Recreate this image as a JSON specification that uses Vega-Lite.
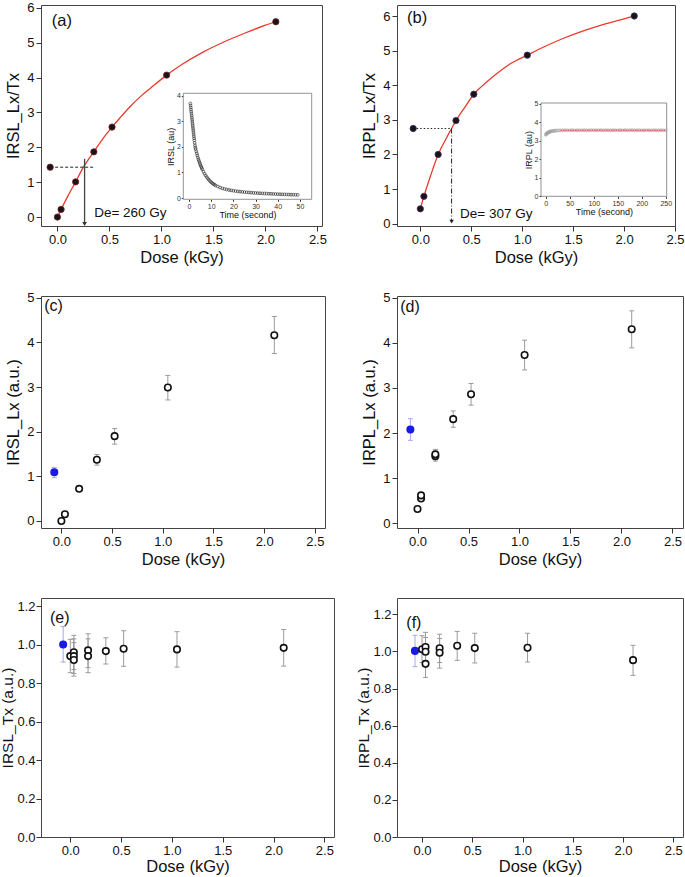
{
  "$schema": "https://vega.github.io/schema/vega-lite/v6.json",
  "autosize": {"type": "none"},
  "padding": {"left": 41, "top": 5, "right": 644, "bottom": 872},
  "background": "white",
  "columns": 2,
  "spacing": {"row": 70, "column": 63},
  "bounds": "flush",
  "datasets": {
    "a_fit": [
      {"dose": 0, "v": 0}, {"dose": 0.035, "v": 0.22}, {"dose": 0.1, "v": 0.6}, {"dose": 0.175, "v": 1.01},
      {"dose": 0.25, "v": 1.43}, {"dose": 0.35, "v": 1.87}, {"dose": 0.45, "v": 2.3}, {"dose": 0.525, "v": 2.58},
      {"dose": 0.6, "v": 2.84}, {"dose": 0.7, "v": 3.17}, {"dose": 0.8, "v": 3.46}, {"dose": 0.9, "v": 3.71},
      {"dose": 1.05, "v": 4.07}, {"dose": 1.2, "v": 4.38}, {"dose": 1.4, "v": 4.73}, {"dose": 1.6, "v": 5.02},
      {"dose": 1.8, "v": 5.27}, {"dose": 2.0, "v": 5.5}, {"dose": 2.1, "v": 5.6}
    ],
    "a_pts": [
      {"dose": -0.07, "v": 1.43}, {"dose": 0, "v": 0}, {"dose": 0.035, "v": 0.22}, {"dose": 0.175, "v": 1.01},
      {"dose": 0.35, "v": 1.87}, {"dose": 0.525, "v": 2.58}, {"dose": 1.05, "v": 4.07}, {"dose": 2.1, "v": 5.6}
    ],
    "a_guide": [
      {"kind": "h", "dose": -0.07, "dose2": 0.348, "v": 1.43, "v2": 1.43},
      {"kind": "v", "dose": 0.261, "dose2": 0.261, "v": 1.67, "v2": -0.2}
    ],
    "a_dec": [
      {"t": 0.6, "s": 3.7}, {"t": 0.7, "s": 3.62}, {"t": 0.8, "s": 3.54}, {"t": 0.9, "s": 3.46}, {"t": 1.0, "s": 3.38},
      {"t": 1.1, "s": 3.3}, {"t": 1.2, "s": 3.22}, {"t": 1.3, "s": 3.14}, {"t": 1.4, "s": 3.06}, {"t": 1.5, "s": 2.98},
      {"t": 1.6, "s": 2.9}, {"t": 1.7, "s": 2.82}, {"t": 1.8, "s": 2.74}, {"t": 1.9, "s": 2.66}, {"t": 2.0, "s": 2.58},
      {"t": 2.1, "s": 2.5}, {"t": 2.2, "s": 2.42}, {"t": 2.3, "s": 2.34}, {"t": 2.4, "s": 2.26}, {"t": 2.55, "s": 2.16},
      {"t": 2.7, "s": 2.06}, {"t": 2.85, "s": 1.98}, {"t": 3.0, "s": 1.92}, {"t": 3.25, "s": 1.83}, {"t": 3.5, "s": 1.75},
      {"t": 3.75, "s": 1.67}, {"t": 4.0, "s": 1.59}, {"t": 4.25, "s": 1.52}, {"t": 4.5, "s": 1.45}, {"t": 4.75, "s": 1.39},
      {"t": 5.0, "s": 1.33}, {"t": 5.25, "s": 1.27}, {"t": 5.5, "s": 1.22}, {"t": 5.75, "s": 1.17}, {"t": 6.0, "s": 1.12},
      {"t": 6.5, "s": 1.03}, {"t": 7.0, "s": 0.95}, {"t": 7.5, "s": 0.88}, {"t": 8.0, "s": 0.82}, {"t": 8.5, "s": 0.76},
      {"t": 9.0, "s": 0.71}, {"t": 9.5, "s": 0.66}, {"t": 10, "s": 0.62}, {"t": 10.5, "s": 0.58}, {"t": 11, "s": 0.55},
      {"t": 11.5, "s": 0.52}, {"t": 12, "s": 0.49}, {"t": 13, "s": 0.45}, {"t": 14, "s": 0.41}, {"t": 15, "s": 0.38},
      {"t": 16, "s": 0.355}, {"t": 17, "s": 0.335}, {"t": 18, "s": 0.315}, {"t": 19, "s": 0.3}, {"t": 20, "s": 0.285},
      {"t": 21, "s": 0.272}, {"t": 22, "s": 0.26}, {"t": 23, "s": 0.25}, {"t": 24, "s": 0.24}, {"t": 25, "s": 0.232},
      {"t": 26, "s": 0.224}, {"t": 27, "s": 0.217}, {"t": 28, "s": 0.21}, {"t": 29, "s": 0.204}, {"t": 30, "s": 0.198},
      {"t": 31, "s": 0.192}, {"t": 32, "s": 0.187}, {"t": 33, "s": 0.182}, {"t": 34, "s": 0.177}, {"t": 35, "s": 0.173},
      {"t": 36, "s": 0.168}, {"t": 37, "s": 0.164}, {"t": 38, "s": 0.16}, {"t": 39, "s": 0.156}, {"t": 40, "s": 0.152},
      {"t": 41, "s": 0.149}, {"t": 42, "s": 0.145}, {"t": 43, "s": 0.142}, {"t": 44, "s": 0.139}, {"t": 45, "s": 0.136},
      {"t": 46, "s": 0.133}, {"t": 47, "s": 0.13}, {"t": 48, "s": 0.127}, {"t": 49, "s": 0.124}
    ],
    "b_fit": [
      {"dose": 0, "v": 0.43}, {"dose": 0.035, "v": 0.79}, {"dose": 0.1, "v": 1.38}, {"dose": 0.175, "v": 2.0},
      {"dose": 0.25, "v": 2.44}, {"dose": 0.307, "v": 2.75}, {"dose": 0.35, "v": 2.98}, {"dose": 0.45, "v": 3.42},
      {"dose": 0.525, "v": 3.74}, {"dose": 0.6, "v": 3.96}, {"dose": 0.7, "v": 4.22}, {"dose": 0.8, "v": 4.45},
      {"dose": 0.9, "v": 4.65}, {"dose": 1.05, "v": 4.87}, {"dose": 1.2, "v": 5.09}, {"dose": 1.4, "v": 5.35},
      {"dose": 1.6, "v": 5.57}, {"dose": 1.8, "v": 5.76}, {"dose": 2.0, "v": 5.92}, {"dose": 2.1, "v": 6.0}
    ],
    "b_pts": [
      {"dose": -0.07, "v": 2.75}, {"dose": 0, "v": 0.43}, {"dose": 0.035, "v": 0.79}, {"dose": 0.175, "v": 2.0},
      {"dose": 0.35, "v": 2.98}, {"dose": 0.525, "v": 3.74}, {"dose": 1.05, "v": 4.87}, {"dose": 2.1, "v": 6.0}
    ],
    "b_guide": [
      {"kind": "h", "dose": -0.07, "dose2": 0.307, "v": 2.75, "v2": 2.75},
      {"kind": "v", "dose": 0.307, "dose2": 0.307, "v": 2.75, "v2": 0.06}
    ],
    "b_irpl": [
      {"t": 0, "s": 3.33}, {"t": 1, "s": 3.36}, {"t": 2, "s": 3.39}, {"t": 3, "s": 3.41}, {"t": 4, "s": 3.43},
      {"t": 5, "s": 3.45}, {"t": 6, "s": 3.47}, {"t": 7, "s": 3.48}, {"t": 8, "s": 3.49}, {"t": 9, "s": 3.5},
      {"t": 10, "s": 3.51}, {"t": 12, "s": 3.52}, {"t": 14, "s": 3.53}, {"t": 16, "s": 3.54}, {"t": 18, "s": 3.55},
      {"t": 20, "s": 3.55}, {"t": 23, "s": 3.56}, {"t": 26, "s": 3.56}, {"t": 30, "s": 3.57}, {"t": 35, "s": 3.57},
      {"t": 40, "s": 3.58}, {"t": 45, "s": 3.57}, {"t": 50, "s": 3.57}, {"t": 55, "s": 3.58}, {"t": 60, "s": 3.57},
      {"t": 65, "s": 3.57}, {"t": 70, "s": 3.58}, {"t": 75, "s": 3.57}, {"t": 80, "s": 3.58}, {"t": 85, "s": 3.57},
      {"t": 90, "s": 3.57}, {"t": 95, "s": 3.58}, {"t": 100, "s": 3.58}, {"t": 105, "s": 3.57}, {"t": 110, "s": 3.58},
      {"t": 115, "s": 3.58}, {"t": 120, "s": 3.57}, {"t": 125, "s": 3.58}, {"t": 130, "s": 3.57}, {"t": 135, "s": 3.57},
      {"t": 140, "s": 3.58}, {"t": 145, "s": 3.57}, {"t": 150, "s": 3.57}, {"t": 155, "s": 3.58}, {"t": 160, "s": 3.57},
      {"t": 165, "s": 3.58}, {"t": 170, "s": 3.57}, {"t": 175, "s": 3.58}, {"t": 180, "s": 3.58}, {"t": 185, "s": 3.57},
      {"t": 190, "s": 3.57}, {"t": 195, "s": 3.58}, {"t": 200, "s": 3.57}, {"t": 205, "s": 3.57}, {"t": 210, "s": 3.58},
      {"t": 215, "s": 3.57}, {"t": 220, "s": 3.57}, {"t": 225, "s": 3.58}, {"t": 230, "s": 3.57}, {"t": 235, "s": 3.57},
      {"t": 240, "s": 3.58}, {"t": 245, "s": 3.57}, {"t": 250, "s": 3.57}
    ],
    "b_irpl_fit": [{"t": 30, "s": 3.575}, {"t": 130, "s": 3.58}, {"t": 250, "s": 3.575}],
    "c": [
      {"kind": "nat", "dose": -0.07, "v": 1.09, "lo": 0.97, "hi": 1.2},
      {"kind": "reg", "dose": 0, "v": 0.0, "lo": -0.02, "hi": 0.02},
      {"kind": "reg", "dose": 0.035, "v": 0.15, "lo": 0.12, "hi": 0.18},
      {"kind": "reg", "dose": 0.175, "v": 0.72, "lo": 0.68, "hi": 0.77},
      {"kind": "reg", "dose": 0.35, "v": 1.37, "lo": 1.25, "hi": 1.49},
      {"kind": "reg", "dose": 0.525, "v": 1.9, "lo": 1.72, "hi": 2.07},
      {"kind": "reg", "dose": 1.05, "v": 2.99, "lo": 2.71, "hi": 3.26},
      {"kind": "reg", "dose": 2.1, "v": 4.16, "lo": 3.75, "hi": 4.58}
    ],
    "d": [
      {"kind": "nat", "dose": -0.07, "v": 2.08, "lo": 1.84, "hi": 2.32},
      {"kind": "reg", "dose": 0, "v": 0.32, "lo": 0.3, "hi": 0.34},
      {"kind": "reg", "dose": 0.035, "v": 0.55, "lo": 0.51, "hi": 0.59},
      {"kind": "reg", "dose": 0.035, "v": 0.62, "lo": 0.58, "hi": 0.66},
      {"kind": "reg", "dose": 0.175, "v": 1.49, "lo": 1.38, "hi": 1.6},
      {"kind": "reg", "dose": 0.175, "v": 1.53, "lo": 1.42, "hi": 1.64},
      {"kind": "reg", "dose": 0.35, "v": 2.31, "lo": 2.13, "hi": 2.49},
      {"kind": "reg", "dose": 0.525, "v": 2.86, "lo": 2.62, "hi": 3.1},
      {"kind": "reg", "dose": 1.05, "v": 3.73, "lo": 3.4, "hi": 4.06},
      {"kind": "reg", "dose": 2.1, "v": 4.3, "lo": 3.89, "hi": 4.71}
    ],
    "e": [
      {"kind": "nat", "dose": -0.07, "v": 1.0, "lo": 0.909, "hi": 1.094},
      {"kind": "reg", "dose": 0, "v": 0.94, "lo": 0.854, "hi": 1.027},
      {"kind": "reg", "dose": 0.035, "v": 0.96, "lo": 0.87, "hi": 1.048},
      {"kind": "reg", "dose": 0.035, "v": 0.94, "lo": 0.85, "hi": 1.03},
      {"kind": "reg", "dose": 0.035, "v": 0.92, "lo": 0.836, "hi": 1.01},
      {"kind": "reg", "dose": 0.175, "v": 0.97, "lo": 0.88, "hi": 1.056},
      {"kind": "reg", "dose": 0.175, "v": 0.94, "lo": 0.854, "hi": 1.03},
      {"kind": "reg", "dose": 0.35, "v": 0.966, "lo": 0.899, "hi": 1.035},
      {"kind": "reg", "dose": 0.525, "v": 0.978, "lo": 0.887, "hi": 1.072},
      {"kind": "reg", "dose": 1.05, "v": 0.975, "lo": 0.883, "hi": 1.067},
      {"kind": "reg", "dose": 2.1, "v": 0.983, "lo": 0.888, "hi": 1.078}
    ],
    "f": [
      {"kind": "nat", "dose": -0.07, "v": 1.003, "lo": 0.918, "hi": 1.087},
      {"kind": "reg", "dose": 0, "v": 1.012, "lo": 0.94, "hi": 1.085},
      {"kind": "reg", "dose": 0.035, "v": 1.024, "lo": 0.95, "hi": 1.103},
      {"kind": "reg", "dose": 0.035, "v": 0.998, "lo": 0.92, "hi": 1.075},
      {"kind": "reg", "dose": 0.035, "v": 0.933, "lo": 0.86, "hi": 1.005},
      {"kind": "reg", "dose": 0.175, "v": 1.017, "lo": 0.94, "hi": 1.093},
      {"kind": "reg", "dose": 0.175, "v": 0.993, "lo": 0.91, "hi": 1.07},
      {"kind": "reg", "dose": 0.35, "v": 1.031, "lo": 0.952, "hi": 1.108},
      {"kind": "reg", "dose": 0.525, "v": 1.018, "lo": 0.938, "hi": 1.098},
      {"kind": "reg", "dose": 1.05, "v": 1.02, "lo": 0.943, "hi": 1.098},
      {"kind": "reg", "dose": 2.1, "v": 0.953, "lo": 0.871, "hi": 1.033}
    ]
  },
  "concat": [
    {
      "width": 281, "height": 221,
      "resolve": {"scale": {"x": "independent", "y": "independent"}},
      "layer": [
        {"layer": [
          {"data": {"name": "a_fit"}, "mark": {"type": "line", "color": "#e63b2e", "strokeWidth": 1.3, "interpolate": "monotone"},
           "encoding": {
             "x": {"field": "dose", "type": "quantitative", "scale": {"domain": [-0.158, 2.544], "nice": false, "zero": false},
                   "axis": {"title": "Dose (kGy)", "values": [0, 0.5, 1, 1.5, 2, 2.5], "tickCount": 20, "format": ".1f", "labelOverlap": false, "titlePadding": 3}},
             "y": {"field": "v", "type": "quantitative", "scale": {"domain": [-0.256, 6.08], "nice": false, "zero": false},
                   "axis": {"title": "IRSL_Lx/Tx", "values": [0, 1, 2, 3, 4, 5, 6], "tickCount": 20, "format": "d", "labelOverlap": false}}}},
          {"data": {"name": "a_guide"}, "transform": [{"filter": "datum.kind == 'h'"}],
           "mark": {"type": "rule", "color": "#222", "strokeWidth": 1, "strokeDash": [3, 2]},
           "encoding": {"x": {"field": "dose", "type": "quantitative"}, "x2": {"field": "dose2"}, "y": {"field": "v", "type": "quantitative"}, "y2": {"field": "v2"}}},
          {"data": {"name": "a_guide"}, "transform": [{"filter": "datum.kind == 'v'"}],
           "mark": {"type": "rule", "color": "#444", "strokeWidth": 1.3},
           "encoding": {"x": {"field": "dose", "type": "quantitative"}, "x2": {"field": "dose2"}, "y": {"field": "v", "type": "quantitative"}, "y2": {"field": "v2"}}},
          {"data": {"name": "a_guide"}, "transform": [{"filter": "datum.kind == 'v'"}],
           "mark": {"type": "point", "shape": "triangle-down", "size": 22, "filled": true, "color": "#333", "opacity": 1},
           "encoding": {"x": {"field": "dose", "type": "quantitative"}, "y": {"field": "v2", "type": "quantitative"}}},
          {"data": {"name": "a_pts"}, "mark": {"type": "circle", "size": 40, "fill": "#151515", "stroke": "#7a1f2b", "strokeWidth": 0.8, "opacity": 1},
           "encoding": {"x": {"field": "dose", "type": "quantitative"}, "y": {"field": "v", "type": "quantitative"}}},
          {"data": {"values": [{"dose": -0.055, "v": 5.62, "label": "(a)"}]},
           "mark": {"type": "text", "align": "left", "baseline": "middle", "fontSize": 16.5, "color": "#111"},
           "encoding": {"x": {"field": "dose", "type": "quantitative"}, "y": {"field": "v", "type": "quantitative"}, "text": {"field": "label"}}},
          {"data": {"values": [{"dose": 0.353, "v": 0.12, "label": "De= 260 Gy"}]},
           "mark": {"type": "text", "align": "left", "baseline": "middle", "fontSize": 13.5, "color": "#111"},
           "encoding": {"x": {"field": "dose", "type": "quantitative"}, "y": {"field": "v", "type": "quantitative"}, "text": {"field": "label"}}}
        ]},
        {"layer": [
          {"data": {"values": [{}]}, "mark": {"type": "rect", "fill": "white", "stroke": "#777", "strokeWidth": 0.8},
           "encoding": {
             "x": {"datum": -2.57, "type": "quantitative", "scale": {"domain": [-2.57, 55.3], "range": [142.3, 270.7], "nice": false, "zero": false},
                   "axis": {"orient": "bottom", "offset": -26.7, "title": "Time (second)", "values": [0, 10, 20, 30, 40, 50], "tickCount": 20, "format": "d", "labelOverlap": false, "tickSize": 2, "labelFontSize": 7, "labelColor": "#333", "titleFontSize": 9, "labelPadding": 1, "titlePadding": 1}},
             "x2": {"datum": 55.3},
             "y": {"datum": -0.05, "type": "quantitative", "scale": {"domain": [-0.05, 4.1], "range": [194.3, 88.3], "nice": false, "zero": false},
                   "axis": {"orient": "left", "offset": -142.3, "title": "IRSL (au)", "values": [0, 1, 2, 3, 4], "tickCount": 20, "format": "d", "labelOverlap": false, "tickSize": 2, "labelFontSize": 7, "labelColor": "#333", "titleFontSize": 9, "labelPadding": 1, "titlePadding": 1}},
             "y2": {"datum": 4.1}}},
          {"data": {"name": "a_dec"}, "mark": {"type": "point", "shape": "circle", "size": 8, "filled": false, "stroke": "#222", "strokeWidth": 0.6, "opacity": 1},
           "encoding": {"x": {"field": "t", "type": "quantitative"}, "y": {"field": "s", "type": "quantitative"}}}
        ]}
      ]
    },
    {
      "width": 278, "height": 221,
      "resolve": {"scale": {"x": "independent", "y": "independent"}},
      "layer": [
        {"layer": [
          {"data": {"name": "b_fit"}, "mark": {"type": "line", "color": "#e63b2e", "strokeWidth": 1.3, "interpolate": "monotone"},
           "encoding": {
             "x": {"field": "dose", "type": "quantitative", "scale": {"domain": [-0.229, 2.5], "nice": false, "zero": false},
                   "axis": {"title": "Dose (kGy)", "values": [0, 0.5, 1, 1.5, 2, 2.5], "tickCount": 20, "format": ".1f", "labelOverlap": false, "titlePadding": 3}},
             "y": {"field": "v", "type": "quantitative", "scale": {"domain": [-0.066, 6.318], "nice": false, "zero": false},
                   "axis": {"title": "IRPL_Lx/Tx", "values": [0, 1, 2, 3, 4, 5, 6], "tickCount": 20, "format": "d", "labelOverlap": false}}}},
          {"data": {"name": "b_guide"}, "transform": [{"filter": "datum.kind == 'h'"}],
           "mark": {"type": "rule", "color": "#222", "strokeWidth": 1, "strokeDash": [1.5, 2]},
           "encoding": {"x": {"field": "dose", "type": "quantitative"}, "x2": {"field": "dose2"}, "y": {"field": "v", "type": "quantitative"}, "y2": {"field": "v2"}}},
          {"data": {"name": "b_guide"}, "transform": [{"filter": "datum.kind == 'v'"}],
           "mark": {"type": "rule", "color": "#222", "strokeWidth": 1, "strokeDash": [5, 2, 1, 2]},
           "encoding": {"x": {"field": "dose", "type": "quantitative"}, "x2": {"field": "dose2"}, "y": {"field": "v", "type": "quantitative"}, "y2": {"field": "v2"}}},
          {"data": {"name": "b_guide"}, "transform": [{"filter": "datum.kind == 'v'"}],
           "mark": {"type": "point", "shape": "triangle-down", "size": 20, "filled": true, "color": "#222", "opacity": 1},
           "encoding": {"x": {"field": "dose", "type": "quantitative"}, "y": {"field": "v2", "type": "quantitative"}}},
          {"data": {"name": "b_pts"}, "mark": {"type": "circle", "size": 40, "fill": "#151515", "stroke": "#4a2a6a", "strokeWidth": 0.8, "opacity": 1},
           "encoding": {"x": {"field": "dose", "type": "quantitative"}, "y": {"field": "v", "type": "quantitative"}}},
          {"data": {"values": [{"dose": -0.13, "v": 5.95, "label": "(b)"}]},
           "mark": {"type": "text", "align": "left", "baseline": "middle", "fontSize": 16.5, "color": "#111"},
           "encoding": {"x": {"field": "dose", "type": "quantitative"}, "y": {"field": "v", "type": "quantitative"}, "text": {"field": "label"}}},
          {"data": {"values": [{"dose": 0.39, "v": 0.29, "label": "De= 307 Gy"}]},
           "mark": {"type": "text", "align": "left", "baseline": "middle", "fontSize": 13.5, "color": "#111"},
           "encoding": {"x": {"field": "dose", "type": "quantitative"}, "y": {"field": "v", "type": "quantitative"}, "text": {"field": "label"}}}
        ]},
        {"layer": [
          {"data": {"values": [{}]}, "mark": {"type": "rect", "fill": "white", "stroke": "#777", "strokeWidth": 0.8},
           "encoding": {
             "x": {"datum": -9.8, "type": "quantitative", "scale": {"domain": [-9.8, 252], "range": [144, 269.7], "nice": false, "zero": false},
                   "axis": {"orient": "bottom", "offset": -29.7, "title": "Time (second)", "values": [0, 50, 100, 150, 200, 250], "tickCount": 20, "format": "d", "labelOverlap": false, "tickSize": 2, "labelFontSize": 7, "labelColor": "#333", "titleFontSize": 9, "labelPadding": 1, "titlePadding": 1}},
             "x2": {"datum": 252},
             "y": {"datum": 0, "type": "quantitative", "scale": {"domain": [0, 5.05], "range": [191.3, 98], "nice": false, "zero": false},
                   "axis": {"orient": "left", "offset": -144, "title": "IRPL (au)", "values": [0, 1, 2, 3, 4, 5], "tickCount": 20, "format": "d", "labelOverlap": false, "tickSize": 2, "labelFontSize": 7, "labelColor": "#333", "titleFontSize": 9, "labelPadding": 1, "titlePadding": 1}},
             "y2": {"datum": 5.05}}},
          {"data": {"name": "b_irpl"}, "mark": {"type": "point", "shape": "circle", "size": 8, "filled": false, "stroke": "#a0a0a0", "strokeWidth": 0.7, "opacity": 1},
           "encoding": {"x": {"field": "t", "type": "quantitative"}, "y": {"field": "s", "type": "quantitative"}}},
          {"data": {"name": "b_irpl_fit"}, "mark": {"type": "line", "color": "#d9534f", "strokeWidth": 1, "opacity": 0.8},
           "encoding": {"x": {"field": "t", "type": "quantitative"}, "y": {"field": "s", "type": "quantitative"}}}
        ]}
      ]
    },
    {
      "width": 284, "height": 232,
      "data": {"name": "c"},
      "layer": [
        {"mark": {"type": "rule", "strokeWidth": 1},
         "encoding": {
           "x": {"field": "dose", "type": "quantitative", "scale": {"domain": [-0.201, 2.6], "nice": false, "zero": false},
                 "axis": {"title": "Dose (kGy)", "values": [0, 0.5, 1, 1.5, 2, 2.5], "tickCount": 20, "format": ".1f", "labelOverlap": false, "titlePadding": 3}},
           "y": {"field": "lo", "type": "quantitative", "scale": {"domain": [-0.157, 5.038], "nice": false, "zero": false},
                 "axis": {"title": "IRSL_Lx (a.u.)", "values": [0, 1, 2, 3, 4, 5], "tickCount": 20, "format": "d", "labelOverlap": false}},
           "y2": {"field": "hi"},
           "color": {"field": "kind", "type": "nominal", "scale": {"domain": ["nat", "reg"], "range": ["#a7a7f0", "#9a9a9a"]}, "legend": null}}},
        {"mark": {"type": "tick", "orient": "horizontal", "size": 5, "thickness": 1, "opacity": 1},
         "encoding": {"x": {"field": "dose", "type": "quantitative"}, "y": {"field": "lo", "type": "quantitative"}, "color": {"field": "kind", "type": "nominal", "legend": null}}},
        {"mark": {"type": "tick", "orient": "horizontal", "size": 5, "thickness": 1, "opacity": 1},
         "encoding": {"x": {"field": "dose", "type": "quantitative"}, "y": {"field": "hi", "type": "quantitative"}, "color": {"field": "kind", "type": "nominal", "legend": null}}},
        {"mark": {"type": "circle", "size": 42, "strokeWidth": 1.6, "opacity": 1},
         "encoding": {"x": {"field": "dose", "type": "quantitative"}, "y": {"field": "v", "type": "quantitative"},
           "fill": {"field": "kind", "type": "nominal", "scale": {"domain": ["nat", "reg"], "range": ["#1a1ae6", "#ffffff"]}, "legend": null},
           "stroke": {"field": "kind", "type": "nominal", "scale": {"domain": ["nat", "reg"], "range": ["#1a1ae6", "#111111"]}, "legend": null}}},
        {"data": {"values": [{"dose": -0.169, "v": 4.81, "label": "(c)"}]},
         "mark": {"type": "text", "align": "left", "baseline": "middle", "fontSize": 16, "color": "#111"},
         "encoding": {"x": {"field": "dose", "type": "quantitative"}, "y": {"field": "v", "type": "quantitative"}, "text": {"field": "label"}}}
      ]
    },
    {
      "width": 286, "height": 232,
      "data": {"name": "d"},
      "layer": [
        {"mark": {"type": "rule", "strokeWidth": 1},
         "encoding": {
           "x": {"field": "dose", "type": "quantitative", "scale": {"domain": [-0.201, 2.603], "nice": false, "zero": false},
                 "axis": {"title": "Dose (kGy)", "values": [0, 0.5, 1, 1.5, 2, 2.5], "tickCount": 20, "format": ".1f", "labelOverlap": false, "titlePadding": 3}},
           "y": {"field": "lo", "type": "quantitative", "scale": {"domain": [-0.102, 5.038], "nice": false, "zero": false},
                 "axis": {"title": "IRPL_Lx (a.u.)", "values": [0, 1, 2, 3, 4, 5], "tickCount": 20, "format": "d", "labelOverlap": false}},
           "y2": {"field": "hi"},
           "color": {"field": "kind", "type": "nominal", "scale": {"domain": ["nat", "reg"], "range": ["#a7a7f0", "#9a9a9a"]}, "legend": null}}},
        {"mark": {"type": "tick", "orient": "horizontal", "size": 5, "thickness": 1, "opacity": 1},
         "encoding": {"x": {"field": "dose", "type": "quantitative"}, "y": {"field": "lo", "type": "quantitative"}, "color": {"field": "kind", "type": "nominal", "legend": null}}},
        {"mark": {"type": "tick", "orient": "horizontal", "size": 5, "thickness": 1, "opacity": 1},
         "encoding": {"x": {"field": "dose", "type": "quantitative"}, "y": {"field": "hi", "type": "quantitative"}, "color": {"field": "kind", "type": "nominal", "legend": null}}},
        {"mark": {"type": "circle", "size": 42, "strokeWidth": 1.6, "opacity": 1},
         "encoding": {"x": {"field": "dose", "type": "quantitative"}, "y": {"field": "v", "type": "quantitative"},
           "fill": {"field": "kind", "type": "nominal", "scale": {"domain": ["nat", "reg"], "range": ["#1a1ae6", "#ffffff"]}, "legend": null},
           "stroke": {"field": "kind", "type": "nominal", "scale": {"domain": ["nat", "reg"], "range": ["#1a1ae6", "#111111"]}, "legend": null}}},
        {"data": {"values": [{"dose": -0.169, "v": 4.79, "label": "(d)"}]},
         "mark": {"type": "text", "align": "left", "baseline": "middle", "fontSize": 16, "color": "#111"},
         "encoding": {"x": {"field": "dose", "type": "quantitative"}, "y": {"field": "v", "type": "quantitative"}, "text": {"field": "label"}}}
      ]
    },
    {
      "width": 293, "height": 239,
      "data": {"name": "e"},
      "layer": [
        {"mark": {"type": "rule", "strokeWidth": 1},
         "encoding": {
           "x": {"field": "dose", "type": "quantitative", "scale": {"domain": [-0.288, 2.595], "nice": false, "zero": false},
                 "axis": {"title": "Dose (kGy)", "values": [0, 0.5, 1, 1.5, 2, 2.5], "tickCount": 20, "format": ".1f", "labelOverlap": false, "titlePadding": 1}},
           "y": {"field": "lo", "type": "quantitative", "scale": {"domain": [0, 1.242], "nice": false, "zero": false},
                 "axis": {"title": "IRSL_Tx (a.u.)", "values": [0, 0.2, 0.4, 0.6, 0.8, 1, 1.2], "tickCount": 20, "format": ".1f", "labelOverlap": false, "labelPadding": 1, "titlePadding": 1, "titleFontSize": 15.5}},
           "y2": {"field": "hi"},
           "color": {"field": "kind", "type": "nominal", "scale": {"domain": ["nat", "reg"], "range": ["#a7a7f0", "#9a9a9a"]}, "legend": null}}},
        {"mark": {"type": "tick", "orient": "horizontal", "size": 5, "thickness": 1, "opacity": 1},
         "encoding": {"x": {"field": "dose", "type": "quantitative"}, "y": {"field": "lo", "type": "quantitative"}, "color": {"field": "kind", "type": "nominal", "legend": null}}},
        {"mark": {"type": "tick", "orient": "horizontal", "size": 5, "thickness": 1, "opacity": 1},
         "encoding": {"x": {"field": "dose", "type": "quantitative"}, "y": {"field": "hi", "type": "quantitative"}, "color": {"field": "kind", "type": "nominal", "legend": null}}},
        {"mark": {"type": "circle", "size": 42, "strokeWidth": 1.6, "opacity": 1},
         "encoding": {"x": {"field": "dose", "type": "quantitative"}, "y": {"field": "v", "type": "quantitative"},
           "fill": {"field": "kind", "type": "nominal", "scale": {"domain": ["nat", "reg"], "range": ["#1a1ae6", "#ffffff"]}, "legend": null},
           "stroke": {"field": "kind", "type": "nominal", "scale": {"domain": ["nat", "reg"], "range": ["#1a1ae6", "#111111"]}, "legend": null}}},
        {"data": {"values": [{"dose": -0.2, "v": 1.139, "label": "(e)"}]},
         "mark": {"type": "text", "align": "left", "baseline": "middle", "fontSize": 16, "color": "#111"},
         "encoding": {"x": {"field": "dose", "type": "quantitative"}, "y": {"field": "v", "type": "quantitative"}, "text": {"field": "label"}}}
      ]
    },
    {
      "width": 286, "height": 239,
      "data": {"name": "f"},
      "layer": [
        {"mark": {"type": "rule", "strokeWidth": 1},
         "encoding": {
           "x": {"field": "dose", "type": "quantitative", "scale": {"domain": [-0.249, 2.597], "nice": false, "zero": false},
                 "axis": {"title": "Dose (kGy)", "values": [0, 0.5, 1, 1.5, 2, 2.5], "tickCount": 20, "format": ".1f", "labelOverlap": false, "titlePadding": 1}},
           "y": {"field": "lo", "type": "quantitative", "scale": {"domain": [0, 1.288], "nice": false, "zero": false},
                 "axis": {"title": "IRPL_Tx (a.u.)", "values": [0, 0.2, 0.4, 0.6, 0.8, 1, 1.2], "tickCount": 20, "format": ".1f", "labelOverlap": false, "labelPadding": 1, "titlePadding": 1, "titleFontSize": 15.5}},
           "y2": {"field": "hi"},
           "color": {"field": "kind", "type": "nominal", "scale": {"domain": ["nat", "reg"], "range": ["#a7a7f0", "#9a9a9a"]}, "legend": null}}},
        {"mark": {"type": "tick", "orient": "horizontal", "size": 5, "thickness": 1, "opacity": 1},
         "encoding": {"x": {"field": "dose", "type": "quantitative"}, "y": {"field": "lo", "type": "quantitative"}, "color": {"field": "kind", "type": "nominal", "legend": null}}},
        {"mark": {"type": "tick", "orient": "horizontal", "size": 5, "thickness": 1, "opacity": 1},
         "encoding": {"x": {"field": "dose", "type": "quantitative"}, "y": {"field": "hi", "type": "quantitative"}, "color": {"field": "kind", "type": "nominal", "legend": null}}},
        {"mark": {"type": "circle", "size": 42, "strokeWidth": 1.6, "opacity": 1},
         "encoding": {"x": {"field": "dose", "type": "quantitative"}, "y": {"field": "v", "type": "quantitative"},
           "fill": {"field": "kind", "type": "nominal", "scale": {"domain": ["nat", "reg"], "range": ["#1a1ae6", "#ffffff"]}, "legend": null},
           "stroke": {"field": "kind", "type": "nominal", "scale": {"domain": ["nat", "reg"], "range": ["#1a1ae6", "#111111"]}, "legend": null}}},
        {"data": {"values": [{"dose": -0.156, "v": 1.155, "label": "(f)"}]},
         "mark": {"type": "text", "align": "left", "baseline": "middle", "fontSize": 16, "color": "#111"},
         "encoding": {"x": {"field": "dose", "type": "quantitative"}, "y": {"field": "v", "type": "quantitative"}, "text": {"field": "label"}}}
      ]
    }
  ],
  "config": {
    "font": "Liberation Sans",
    "view": {"stroke": "#444", "strokeWidth": 1},
    "axis": {
      "domain": false, "grid": false, "ticks": true, "tickSize": 5, "tickColor": "#333", "tickWidth": 1,
      "labelFontSize": 13, "labelColor": "#111", "labelPadding": 2, "labelFlush": false, "labelOverlap": false,
      "titleFontSize": 16.5, "titleFontWeight": "normal", "titleColor": "#111", "titlePadding": 5
    }
  }
}
